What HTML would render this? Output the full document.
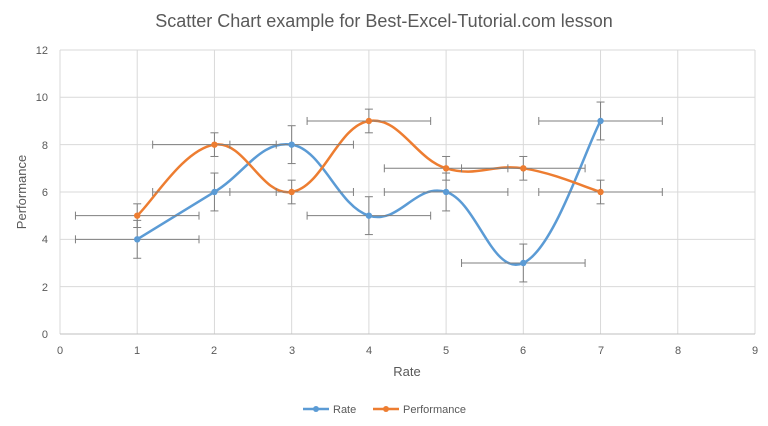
<!DOCTYPE html>
<html><head><meta charset="utf-8"><style>
html,body{margin:0;padding:0;background:#fff;}
svg{display:block;font-family:"Liberation Sans",Calibri,sans-serif;}
</style></head><body>
<svg id="c" width="768" height="426" viewBox="0 0 768 426" xmlns="http://www.w3.org/2000/svg">
<rect width="768" height="426" fill="#fff"/>
<text x="384" y="27" text-anchor="middle" font-size="18" fill="#595959">Scatter Chart example for Best-Excel-Tutorial.com lesson</text>
<g id="grid" stroke="#d9d9d9" stroke-width="1"></g>
<g id="labels" font-size="11" fill="#595959">
<text x="48" y="338" text-anchor="end">0</text>
<text x="48" y="291" text-anchor="end">2</text>
<text x="48" y="243" text-anchor="end">4</text>
<text x="48" y="196" text-anchor="end">6</text>
<text x="48" y="149" text-anchor="end">8</text>
<text x="48" y="101" text-anchor="end">10</text>
<text x="48" y="54" text-anchor="end">12</text>
<text x="60" y="354" text-anchor="middle">0</text>
<text x="137" y="354" text-anchor="middle">1</text>
<text x="214" y="354" text-anchor="middle">2</text>
<text x="292" y="354" text-anchor="middle">3</text>
<text x="369" y="354" text-anchor="middle">4</text>
<text x="446" y="354" text-anchor="middle">5</text>
<text x="523" y="354" text-anchor="middle">6</text>
<text x="601" y="354" text-anchor="middle">7</text>
<text x="678" y="354" text-anchor="middle">8</text>
<text x="755" y="354" text-anchor="middle">9</text>
</g>
<text x="407" y="376" text-anchor="middle" font-size="13" fill="#595959">Rate</text>
<text x="26" y="192" text-anchor="middle" font-size="13" fill="#595959" transform="rotate(-90 26 192)">Performance</text>
<g id="series"></g>
<g font-size="11" fill="#595959">
<line x1="303" y1="409" x2="329" y2="409" stroke="#5b9bd5" stroke-width="2.5"/>
<circle cx="316" cy="409" r="3" fill="#5b9bd5"/>
<text x="333" y="413">Rate</text>
<line x1="373" y1="409" x2="399" y2="409" stroke="#ed7d31" stroke-width="2.5"/>
<circle cx="386" cy="409" r="3" fill="#ed7d31"/>
<text x="403" y="413">Performance</text>
</g>
</svg>
<script>
var NS="http://www.w3.org/2000/svg";
function X(x){return 60+77.22*x;}
function Y(y){return 334-23.67*y;}
var g=document.getElementById('grid');
function ln(p,a,b,c,d,s,w){var l=document.createElementNS(NS,'line');l.setAttribute('x1',a);l.setAttribute('y1',b);l.setAttribute('x2',c);l.setAttribute('y2',d);l.setAttribute('stroke',s);l.setAttribute('stroke-width',w||1);p.appendChild(l);}
for(var i=0;i<=6;i++){ln(g,60,Y(i*2),755,Y(i*2),'#d9d9d9');}
for(var i=0;i<=9;i++){ln(g,X(i),50,X(i),334,'#d9d9d9');}
ln(g,60,334,755,334,'#bfbfbf');
var S=document.getElementById('series');
var data=[
 {c:'#5b9bd5',ey:0.8,ex:0.8,p:[[1,4],[2,6],[3,8],[4,5],[5,6],[6,3],[7,9]]},
 {c:'#ed7d31',ey:0.5,ex:0.8,p:[[1,5],[2,8],[3,6],[4,9],[5,7],[6,7],[7,6]]}
];
data.forEach(function(s){
 var P=s.p.map(function(q){return [X(q[0]),Y(q[1])];});
 var d='M'+P[0][0]+','+P[0][1];
 var t=1/5;
 for(var i=0;i<P.length-1;i++){
  var p0=P[i-1]||P[i],p1=P[i],p2=P[i+1],p3=P[i+2]||P[i+1];
  var c1=[p1[0]+(p2[0]-p0[0])*t,p1[1]+(p2[1]-p0[1])*t];
  var c2=[p2[0]-(p3[0]-p1[0])*t,p2[1]-(p3[1]-p1[1])*t];
  d+=' C'+c1+' '+c2+' '+p2;
 }
 var path=document.createElementNS(NS,'path');path.setAttribute('d',d);path.setAttribute('fill','none');path.setAttribute('stroke',s.c);path.setAttribute('stroke-width','2.5');S.appendChild(path);
});
data.forEach(function(s){
 s.p.forEach(function(q){
  var x=X(q[0]),y=Y(q[1]);
  var x1=X(q[0]-s.ex),x2=X(q[0]+s.ex),y1=Y(q[1]-s.ey),y2=Y(q[1]+s.ey);
  ln(S,x1,y,x2,y,'#7f7f7f');ln(S,x1,y-4,x1,y+4,'#7f7f7f');ln(S,x2,y-4,x2,y+4,'#7f7f7f');
  ln(S,x,y1,x,y2,'#7f7f7f');ln(S,x-4,y1,x+4,y1,'#7f7f7f');ln(S,x-4,y2,x+4,y2,'#7f7f7f');
 });
});
data.forEach(function(s){
 s.p.forEach(function(q){
  var c=document.createElementNS(NS,'circle');c.setAttribute('cx',X(q[0]));c.setAttribute('cy',Y(q[1]));c.setAttribute('r',3.2);c.setAttribute('fill',s.c);S.appendChild(c);
 });
});
</script>
</body></html>
